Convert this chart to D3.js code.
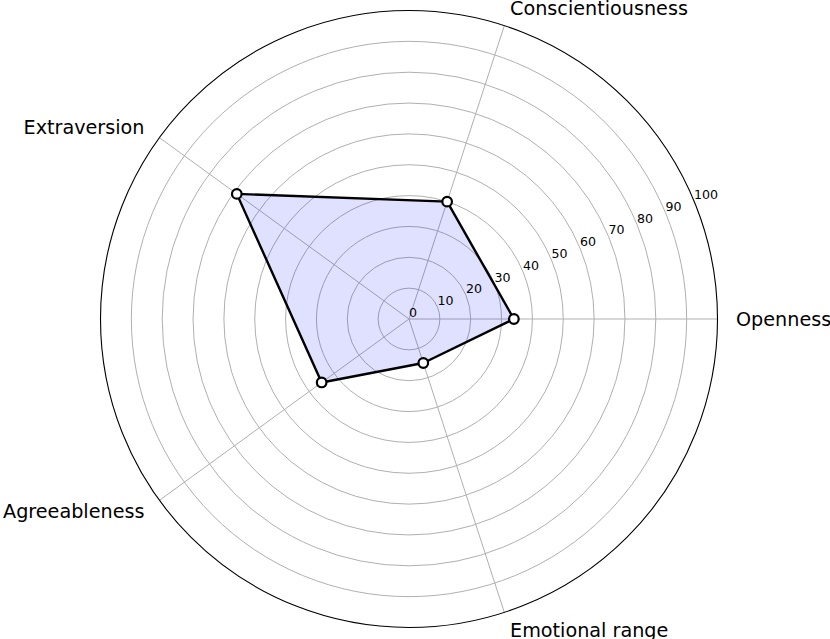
<!DOCTYPE html>
<html>
<head>
<meta charset="utf-8">
<script src="https://cdn.jsdelivr.net/npm/d3@7"></script>
<style>
  html, body { margin: 0; padding: 0; background: #fff; }
  svg { display: block; }
  text { font-family: "DejaVu Sans", sans-serif; fill: #000; }
</style>
</head>
<body>
<svg id="chart" width="830" height="639"></svg>
<script>
// ---- data ----
const categories = ["Openness", "Conscientiousness", "Extraversion", "Agreeableness", "Emotional range"];
const values = [34, 40, 69, 35, 15];
const radialTicks = [0, 10, 20, 30, 40, 50, 60, 70, 80, 90, 100];

// ---- layout ----
const width = 830, height = 639;
const cx = 409, cy = 319, R = 308.5;
const svg = d3.select("#chart");
const g = svg.append("g").attr("transform", `translate(${cx},${cy})`);

const r = d3.scaleLinear().domain([0, 100]).range([0, R]);
const angle = d3.scalePoint().domain(categories.concat(["_end"])).range([0, 2 * Math.PI]);
const px = (a, rr) => rr * Math.cos(a);
const py = (a, rr) => -rr * Math.sin(a);

// grid rings
g.selectAll("circle.ring")
  .data(radialTicks.filter(t => t > 0 && t < 100))
  .enter().append("circle")
  .attr("class", "ring")
  .attr("r", d => r(d))
  .attr("fill", "none")
  .attr("stroke", "#b0b0b0")
  .attr("stroke-width", 1);

// spokes
g.selectAll("line.spoke")
  .data(categories)
  .enter().append("line")
  .attr("x1", 0).attr("y1", 0)
  .attr("x2", d => px(angle(d), R))
  .attr("y2", d => py(angle(d), R))
  .attr("stroke", "#b0b0b0")
  .attr("stroke-width", 1);

// outer frame
g.append("circle")
  .attr("r", R)
  .attr("fill", "none")
  .attr("stroke", "#000")
  .attr("stroke-width", 1.1);

// data polygon
const pts = categories.map((c, i) => [px(angle(c), r(values[i])), py(angle(c), r(values[i]))]);
g.append("path")
  .attr("d", d3.line().curve(d3.curveLinearClosed)(pts))
  .attr("fill", "#0000ff")
  .attr("fill-opacity", 0.12)
  .attr("stroke", "#000")
  .attr("stroke-width", 2.4)
  .attr("stroke-linejoin", "round");

// radial tick labels
const labAng = 22.5 * Math.PI / 180;
g.selectAll("text.rtick")
  .data(radialTicks)
  .enter().append("text")
  .attr("class", "rtick")
  .attr("x", d => px(labAng, r(d)))
  .attr("y", d => py(labAng, r(d)) - 2)
  .attr("text-anchor", "start")
  .attr("font-size", "12.6px")
  .text(d => d);

// markers
g.selectAll("circle.pt")
  .data(pts)
  .enter().append("circle")
  .attr("cx", d => d[0]).attr("cy", d => d[1])
  .attr("r", 4.8)
  .attr("fill", "#fff")
  .attr("stroke", "#000")
  .attr("stroke-width", 2.2);

// category labels
const Rl = R + 18.5;
g.selectAll("text.cat")
  .data(categories)
  .enter().append("text")
  .attr("class", "cat")
  .attr("x", d => px(angle(d), Rl))
  .attr("y", d => py(angle(d), Rl))
  .attr("dy", "0.36em")
  .attr("text-anchor", d => Math.cos(angle(d)) >= 0 ? "start" : "end")
  .attr("font-size", "19.2px")
  .text(d => d);
</script>
</body>
</html>
